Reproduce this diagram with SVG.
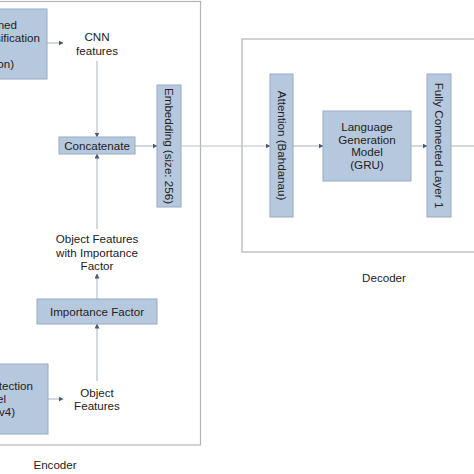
<svg xmlns="http://www.w3.org/2000/svg" width="474" height="474" viewBox="0 0 474 474">
<style>
.box{fill:#b6c8de;stroke:#98abc4;stroke-width:1}
.frame{fill:none;stroke:#b4b4b4;stroke-width:1.2}
.ln{fill:none;stroke:#b9bfc7;stroke-width:1.2}
text{font-family:"Liberation Sans",Arial,sans-serif;font-size:11.6px;fill:#222;text-anchor:middle}
.end{text-anchor:end}
</style>
<defs>
<marker id="ah" viewBox="0 0 10 10" refX="9" refY="5" markerWidth="5" markerHeight="5" orient="auto" markerUnits="userSpaceOnUse">
<path d="M0,0 L10,5 L0,10 z" fill="#4a5a74"/>
</marker>
</defs>
<rect width="474" height="474" fill="#fff"/>
<g id="encoder-frame">
<rect class="frame" x="-10" y="1.5" width="210.5" height="443.5"/>
<text x="55" y="469">Encoder</text>
</g>
<g id="decoder-frame">
<rect class="frame" x="242" y="39" width="250" height="213"/>
<text x="384" y="282">Decoder</text>
</g>
<g id="connectors">
<line class="ln" x1="47" y1="43" x2="63" y2="43" marker-end="url(#ah)"/>
<line class="ln" x1="97" y1="61" x2="97" y2="137" marker-end="url(#ah)"/>
<line class="ln" x1="135" y1="146" x2="157" y2="146" marker-end="url(#ah)"/>
<line class="ln" x1="181" y1="146" x2="270" y2="146" marker-end="url(#ah)"/>
<line class="ln" x1="293" y1="146" x2="323" y2="146" marker-end="url(#ah)"/>
<line class="ln" x1="411" y1="146" x2="427" y2="146" marker-end="url(#ah)"/>
<line class="ln" x1="451" y1="146" x2="480" y2="146"/>
<line class="ln" x1="48" y1="399" x2="63" y2="399" marker-end="url(#ah)"/>
<line class="ln" x1="97" y1="381" x2="97" y2="324" marker-end="url(#ah)"/>
<line class="ln" x1="97" y1="299" x2="97" y2="274" marker-end="url(#ah)"/>
<line class="ln" x1="97" y1="229" x2="97" y2="154" marker-end="url(#ah)"/>
</g>
<g id="pretrained-classifier">
<rect class="box" x="-80" y="9" width="127" height="70"/>
<text class="end" x="17" y="29">Pretrained</text>
<text class="end" x="40" y="42">Image Classification</text>
<text class="end" x="-2" y="55">Model</text>
<text class="end" x="14" y="68">(Inception)</text>
</g>
<g id="cnn-features">
<text x="97" y="41">CNN</text>
<text x="97" y="55">features</text>
</g>
<g id="concatenate">
<rect class="box" x="59" y="137" width="76" height="17"/>
<text x="97" y="150">Concatenate</text>
</g>
<g id="embedding">
<rect class="box" x="157" y="85" width="24" height="122"/>
<text transform="translate(169,146) rotate(90)" y="4">Embedding (size: 256)</text>
</g>
<g id="object-features-importance">
<text x="97" y="243">Object Features</text>
<text x="97" y="257">with Importance</text>
<text x="97" y="270">Factor</text>
</g>
<g id="importance-factor">
<rect class="box" x="37" y="299" width="120" height="25"/>
<text x="97" y="316">Importance Factor</text>
</g>
<g id="object-detection">
<rect class="box" x="-80" y="364" width="128" height="70"/>
<text class="end" x="33" y="390">Object Detection</text>
<text class="end" x="6" y="403">Model</text>
<text class="end" x="15" y="416">(YOLOv4)</text>
</g>
<g id="object-features">
<text x="97" y="397">Object</text>
<text x="97" y="410">Features</text>
</g>
<g id="attention">
<rect class="box" x="270" y="74" width="23" height="143"/>
<text transform="translate(281.5,145.5) rotate(90)" y="4">Attention (Bahdanau)</text>
</g>
<g id="language-model">
<rect class="box" x="323" y="111" width="88" height="70"/>
<text x="367" y="131">Language</text>
<text x="367" y="144">Generation</text>
<text x="367" y="156">Model</text>
<text x="367" y="169">(GRU)</text>
</g>
<g id="fully-connected">
<rect class="box" x="427" y="74" width="24" height="143"/>
<text transform="translate(439,145.5) rotate(90)" y="4">Fully Connected Layer 1</text>
</g>
</svg>
